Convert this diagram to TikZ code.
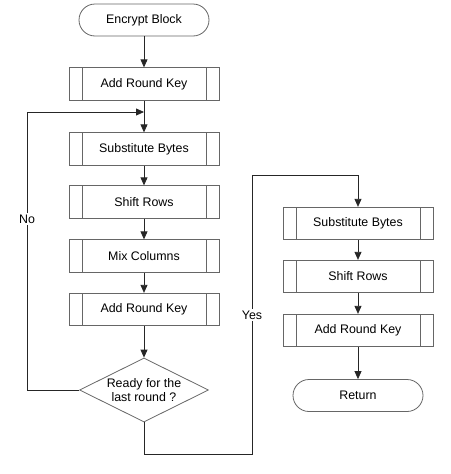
\documentclass[tikz,border=0pt]{standalone}
\usepackage{fontspec}
\setmainfont{Liberation Sans}
\usetikzlibrary{shapes.geometric,arrows.meta}

\tikzset{
  procbox/.style={draw=black!60, line width=0.8pt, minimum width=150pt, minimum height=32.5pt, inner sep=0pt,
    path picture={\draw[black!60, line width=0.8pt]
      ([xshift=13pt]path picture bounding box.north west) -- ([xshift=13pt]path picture bounding box.south west)
      ([xshift=-13pt]path picture bounding box.north east) -- ([xshift=-13pt]path picture bounding box.south east);}},
  termbox/.style={draw=black!60, line width=0.8pt, rounded corners=16pt, minimum width=130pt, minimum height=32pt, inner sep=0pt},
  decide/.style={draw=black!60, line width=0.8pt, diamond, aspect=2, minimum width=129pt, minimum height=64pt, inner sep=0pt, align=center},
  flow/.style={draw=black!85, line width=0.8pt, -{Triangle[width=7pt,length=8pt]}},
  answer/.style={fill=white, inner sep=1.5pt}
}

\begin{document}
\begin{tikzpicture}[x=1pt, y=-1pt, font=\fontsize{12.4}{14}\selectfont]
    \useasboundingbox (0,0) rectangle (450,474);
    % left column
    \node[termbox] (start) at (144,20) {Encrypt Block};
    \node[procbox] (ark1) at (144,84) {Add Round Key};
    \node[procbox] (sub1) at (144,149) {Substitute Bytes};
    \node[procbox] (shift1) at (144,202) {Shift Rows};
    \node[procbox] (mix) at (144,256) {Mix Columns};
    \node[procbox] (ark2) at (144,309.5) {Add Round Key};
    \node[decide] (ready) at (144,390) {Ready for the\\last round ?};
    % right column
    \node[procbox] (sub2) at (358,223.5) {Substitute Bytes};
    \node[procbox] (shift2) at (358,276.5) {Shift Rows};
    \node[procbox] (ark3) at (358,330.5) {Add Round Key};
    \node[termbox] (ret) at (358,395.5) {Return};
    % corners of the loops
    \coordinate (merge) at (144,112);
    \coordinate (nocorner) at (27,112);
    \coordinate (ybot) at (144,454);
    \coordinate (ytop) at (252,175);
    \draw[flow] (start) -- (ark1);
    \draw[flow] (ark1) -- (sub1);
    \draw[flow] (sub1) -- (shift1);
    \draw[flow] (shift1) -- (mix);
    \draw[flow] (mix) -- (ark2);
    \draw[flow] (ark2) -- (ready);
    \draw[flow] (ready.west) -| (nocorner) -- (merge);
    \draw[flow] (ready.south) -- (ybot) -| (ytop) -| (sub2.north);
    \draw[flow] (sub2) -- (shift2);
    \draw[flow] (shift2) -- (ark3);
    \draw[flow] (ark3) -- (ret);
    \node[answer] (no) at (27,219) {No};
    \node[answer] (yes) at (252,315) {Yes};
\end{tikzpicture}
\end{document}
